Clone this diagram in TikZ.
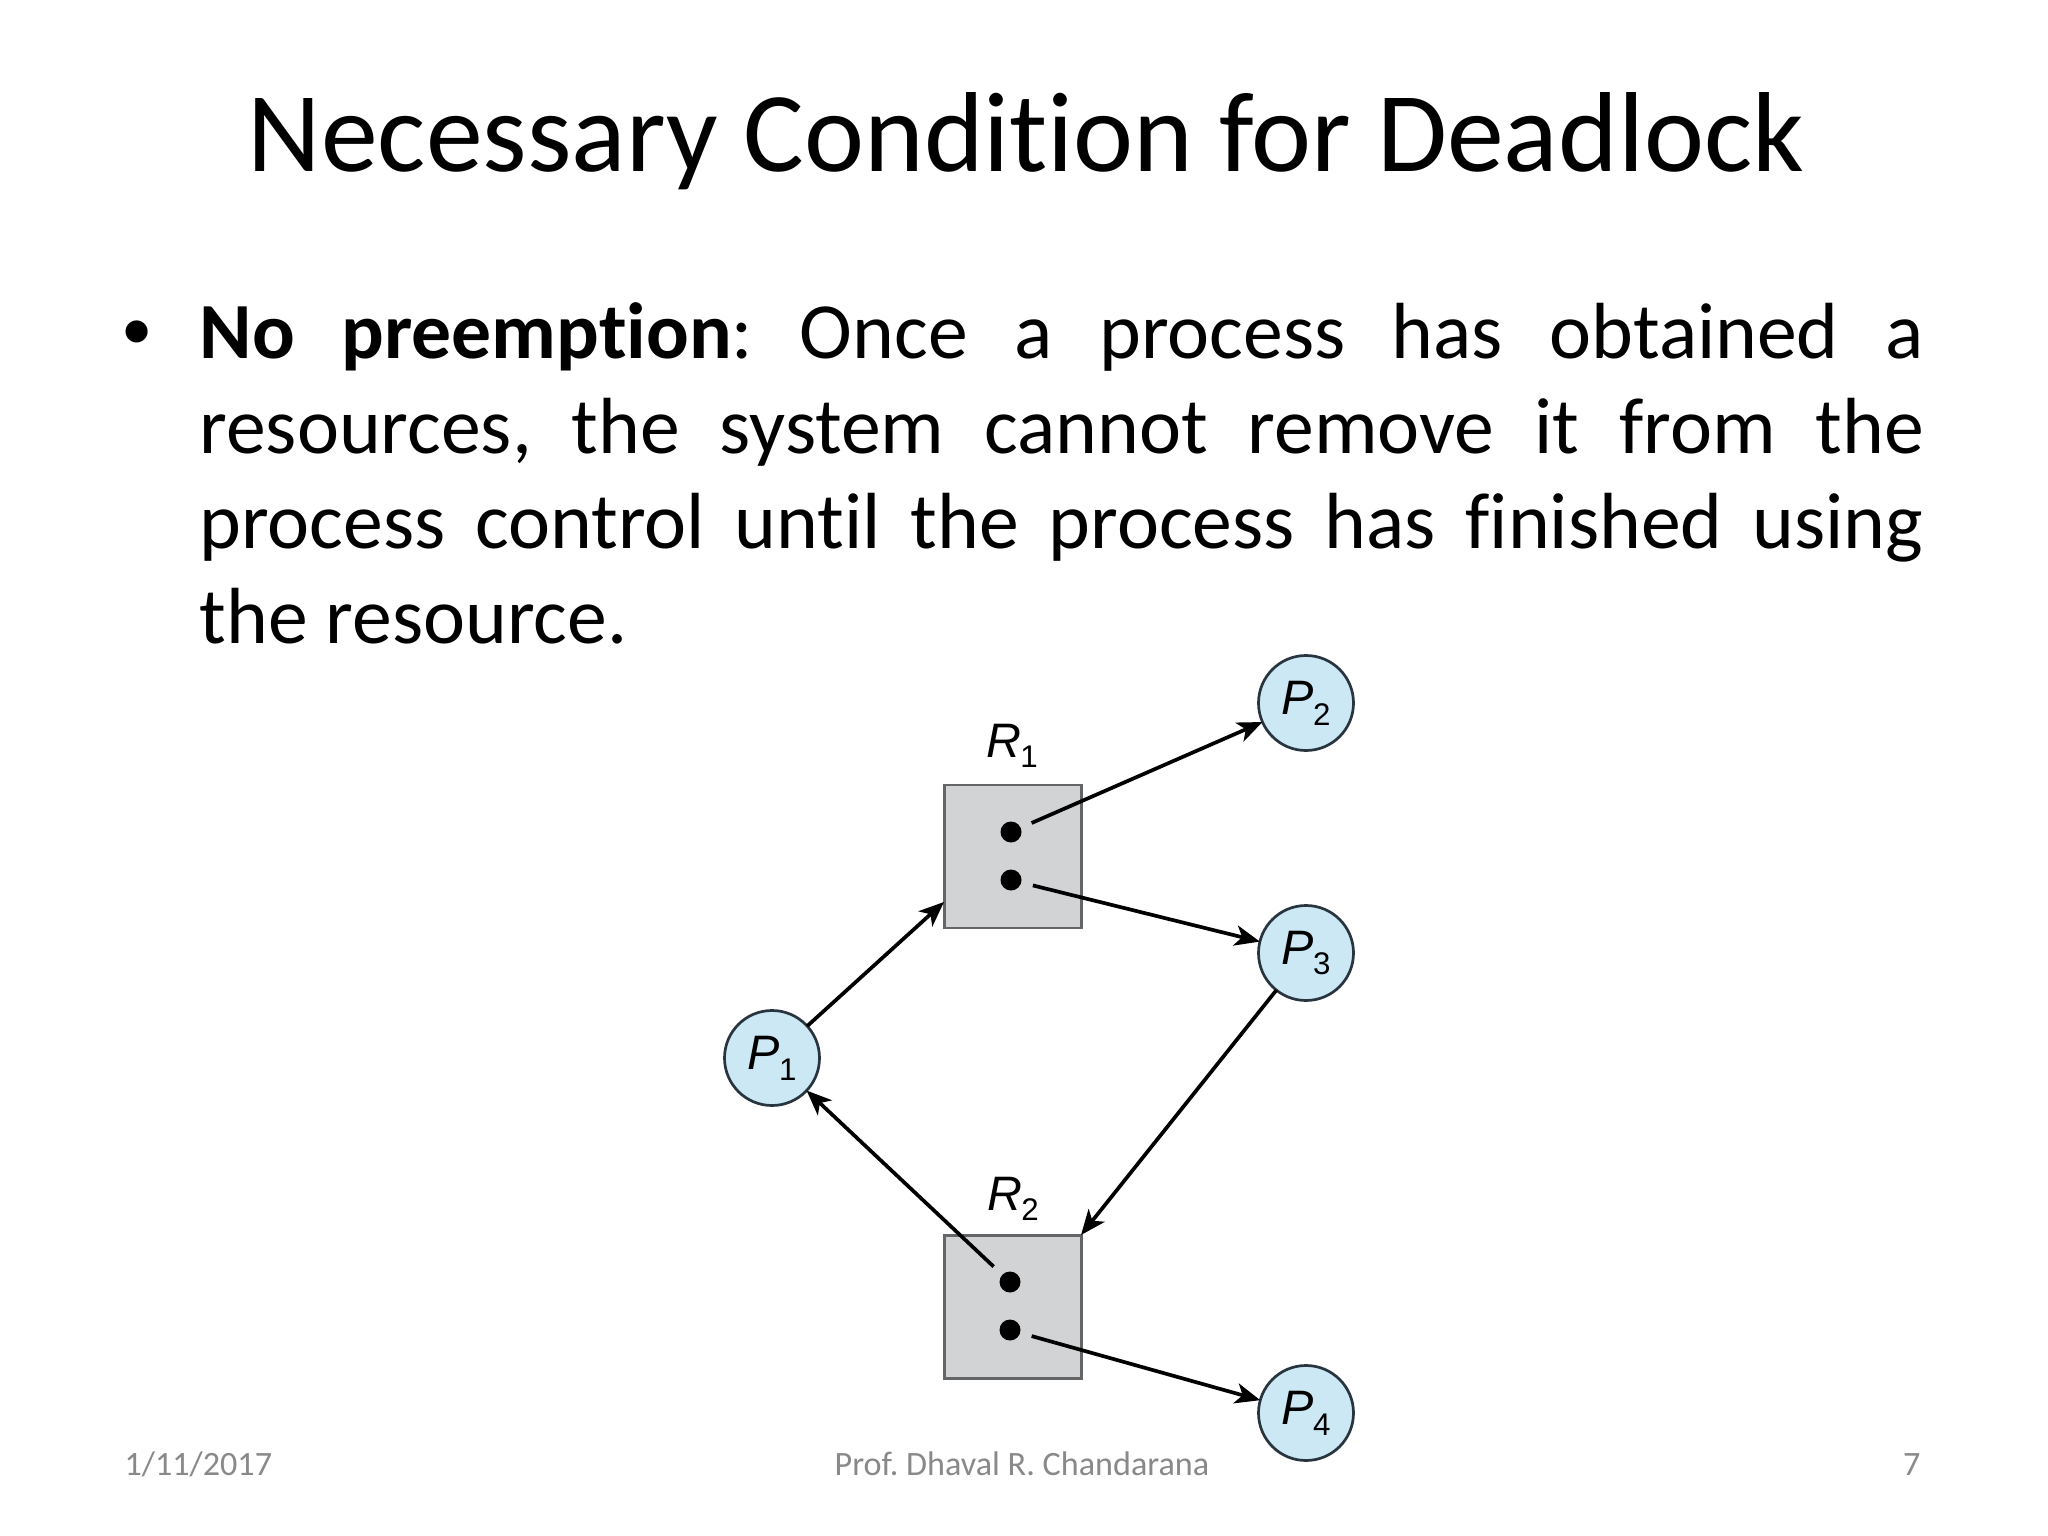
\documentclass[tikz,border=0pt]{standalone}
\usepackage{fontspec}
\setmainfont{Carlito}[Ligatures={NoCommon}]
\setsansfont{Liberation Sans}
\usetikzlibrary{arrows.meta}
\frenchspacing
\def\px{0.3515625bp}
\definecolor{boxfill}{RGB}{209,211,212}
\definecolor{boxline}{RGB}{100,101,103}
\definecolor{procfill}{RGB}{204,232,245}
\definecolor{procline}{RGB}{40,52,62}
\definecolor{footgray}{RGB}{137,137,137}
\newcommand\plab[2]{{\sffamily\fontsize{17bp}{20bp}\selectfont\itshape #1}\kern-0.2bp\raisebox{-3.8bp}{\sffamily\fontsize{11bp}{13bp}\selectfont #2}}
\begin{document}
\begin{tikzpicture}[x=\px,y=-\px,
  resbox/.style={draw=boxline, fill=boxfill, line width=1.05bp, minimum width=137*\px, minimum height=143*\px, inner sep=0pt, outer sep=0pt},
  proc/.style={circle, draw=procline, fill=procfill, line width=0.95bp, minimum size=95*\px, inner sep=0pt, outer sep=0pt},
  resdot/.style={circle, fill=black, minimum size=21*\px, inner sep=0pt, outer sep=12*\px},
  arr/.style={line width=1.3bp, -{Stealth[length=8.8bp,width=7.2bp,inset=2.4bp]}},
  body/.style={font=\fontsize{28bp}{33.4bp}\selectfont, inner sep=0pt, anchor=base west},
  foot/.style={font=\fontsize{12bp}{14bp}\selectfont, text=footgray, inner sep=0pt},
  lab/.style={inner sep=0pt, anchor=base}]
\fill[white] (0,0) rectangle (2048,1536);
\useasboundingbox (0,0) rectangle (2048,1536);
% title
\node[anchor=base, inner sep=0pt, font=\fontsize{40bp}{48bp}\selectfont] (title) at (1026,172) {Necessary Condition for Deadlock};
% bullet text
\node[anchor=base, inner sep=0pt, font=\fontsize{22bp}{26bp}\selectfont] (bullet) at (137,350) {•};
\node[body] (l1) at (199,358) {\makebox[606.1bp][s]{\textbf{No preemption}: Once a process has obtained a}};
\node[body] (l2) at (199,453) {\makebox[606.1bp][s]{resources, the system cannot remove it from the}};
\node[body] (l3) at (199,548) {\makebox[606.1bp][s]{process control until the process has finished using}};
\node[body] (l4) at (199,643) {the resource.};
% resources
\node[resbox] (R1) at (1012.5,856.5) {};
\node[resbox] (R2) at (1012.5,1306.5) {};
\node[resdot] (d11) at (1011,832) {};
\node[resdot] (d12) at (1011,880) {};
\node[resdot] (d21) at (1010,1282) {};
\node[resdot] (d22) at (1010,1330) {};
\node[lab] (R1lab) at (1012,757) {\plab{R}{1}};
\node[lab] (R2lab) at (1013,1210) {\plab{R}{2}};
% processes
\node[proc] (P1) at (772,1058) {\plab{P}{1}};
\node[proc] (P2) at (1306,703) {\plab{P}{2}};
\node[proc] (P3) at (1306,953) {\plab{P}{3}};
\node[proc] (P4) at (1306,1413) {\plab{P}{4}};
% edges
\coordinate (r1in) at (944,902);
\draw[arr] (P1) -- (r1in);
\draw[arr] (d11) -- (P2);
\draw[arr] (d12) -- (P3);
\draw[arr] (P3) -- (R2.north east);
\draw[arr] (d21) -- (P1);
\draw[arr] (d22) -- (P4);
% footer
\node[foot, anchor=base west] (date) at (124,1475) {1/11/2017};
\node[foot, anchor=base] (author) at (1022,1475) {Prof. Dhaval R. Chandarana};
\node[foot, anchor=base east] (page) at (1921,1475) {7};
\end{tikzpicture}
\end{document}
